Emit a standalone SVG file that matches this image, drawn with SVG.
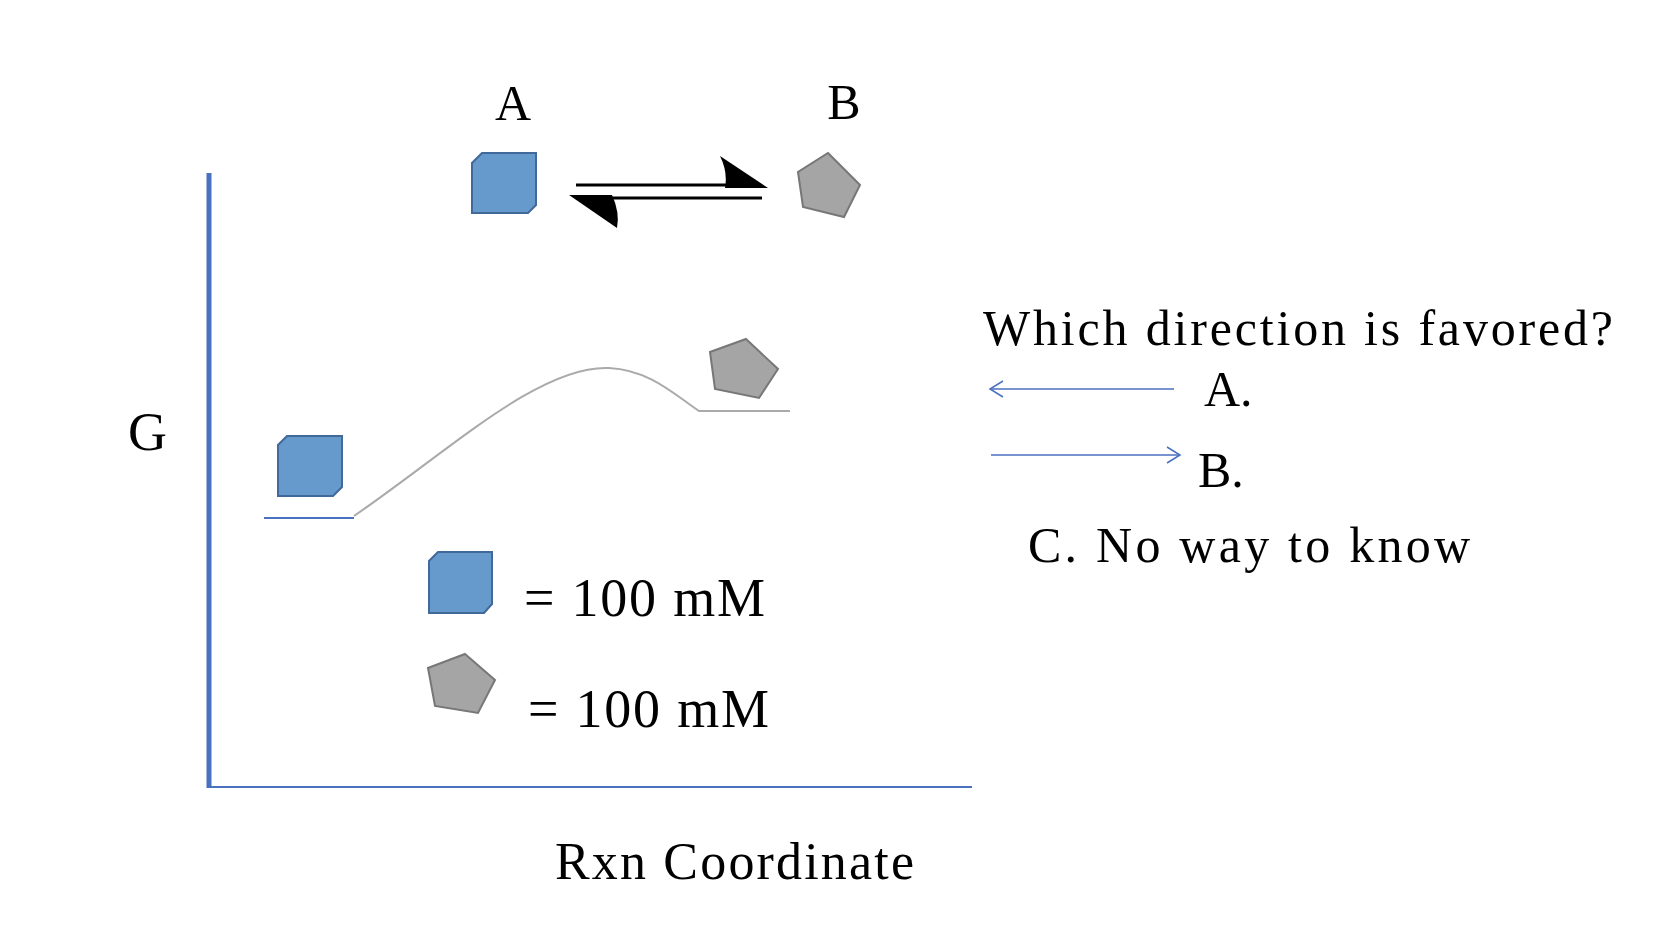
<svg xmlns="http://www.w3.org/2000/svg" width="1659" height="926" viewBox="0 0 1659 926">
<style>
text{font-family:"Liberation Serif","Times New Roman",serif;fill:#000}
.sq{fill:#6699cc;stroke:#41699a;stroke-width:2}
.pg{fill:#a5a5a5;stroke:#777;stroke-width:2}
.ax{stroke:#4a70c0;fill:none}
.ans{stroke:#4a70c0;stroke-width:1.5;fill:none}
</style>
<rect width="1659" height="926" fill="#fff"/>
<g id="axes">
<line class="ax" x1="209" y1="173" x2="209" y2="788" stroke-width="5"/>
<line class="ax" x1="207" y1="787" x2="972" y2="787" stroke-width="2"/>
<text x="128" y="450" font-size="54">G</text>
<text x="555" y="879" font-size="52" textLength="359">Rxn Coordinate</text>
</g>
<g id="labelA"><text x="513" y="120" font-size="50" text-anchor="middle">A</text></g>
<g id="labelB"><text x="844" y="119" font-size="50" text-anchor="middle">B</text></g>
<g id="topA"><path class="sq" d="M482,153 L536,153 L536,205 L528,213 L472,213 L472,163 Z"/></g>
<g id="topB"><polygon class="pg" points="828,153 860,185 844,217 803,207 798,172"/></g>
<g id="equilibrium">
<line x1="576" y1="185" x2="755" y2="185" stroke="#000" stroke-width="3"/>
<path d="M720,156 Q728,172 725,188 L768,188 Z" fill="#000"/>
<line x1="612" y1="198" x2="762" y2="198" stroke="#000" stroke-width="3"/>
<path d="M569,195 L612,195 Q620,212 617,228 Z" fill="#000"/>
</g>
<g id="profile">
<line x1="264" y1="518" x2="354" y2="518" stroke="#4a70c0" stroke-width="2"/>
<path d="M354,516 C450,450 540,365 609,368 C650,370 675,395 699,411 L790,411" fill="none" stroke="#aaa" stroke-width="2"/>
<path class="sq" d="M287,436 L342,436 L342,487 L333,496 L278,496 L278,445 Z"/>
<polygon class="pg" points="746,339 778,369 759,398 715,389 710,352"/>
</g>
<g id="legend">
<path class="sq" d="M438,552 L492,552 L492,604 L484,613 L429,613 L429,561 Z"/>
<text x="524" y="616" font-size="54" textLength="241">= 100 mM</text>
<polygon class="pg" points="465,654 495,680 478,713 435,706 428,668"/>
<text x="528" y="727" font-size="54" textLength="241">= 100 mM</text>
</g>
<g id="question">
<text x="983" y="345" font-size="50" textLength="630">Which direction is favored?</text>
<text x="1204" y="406" font-size="50">A.</text>
<text x="1198" y="487" font-size="50">B.</text>
<text x="1028" y="562" font-size="50" textLength="442">C. No way to know</text>
</g>
<g id="connectors">
<line class="ans" x1="990" y1="389" x2="1174" y2="389"/>
<polyline class="ans" points="1003,381 990,389 1003,397"/>
<line class="ans" x1="991" y1="455" x2="1180" y2="455"/>
<polyline class="ans" points="1167,447 1180,455 1167,463"/>
</g>
</svg>
